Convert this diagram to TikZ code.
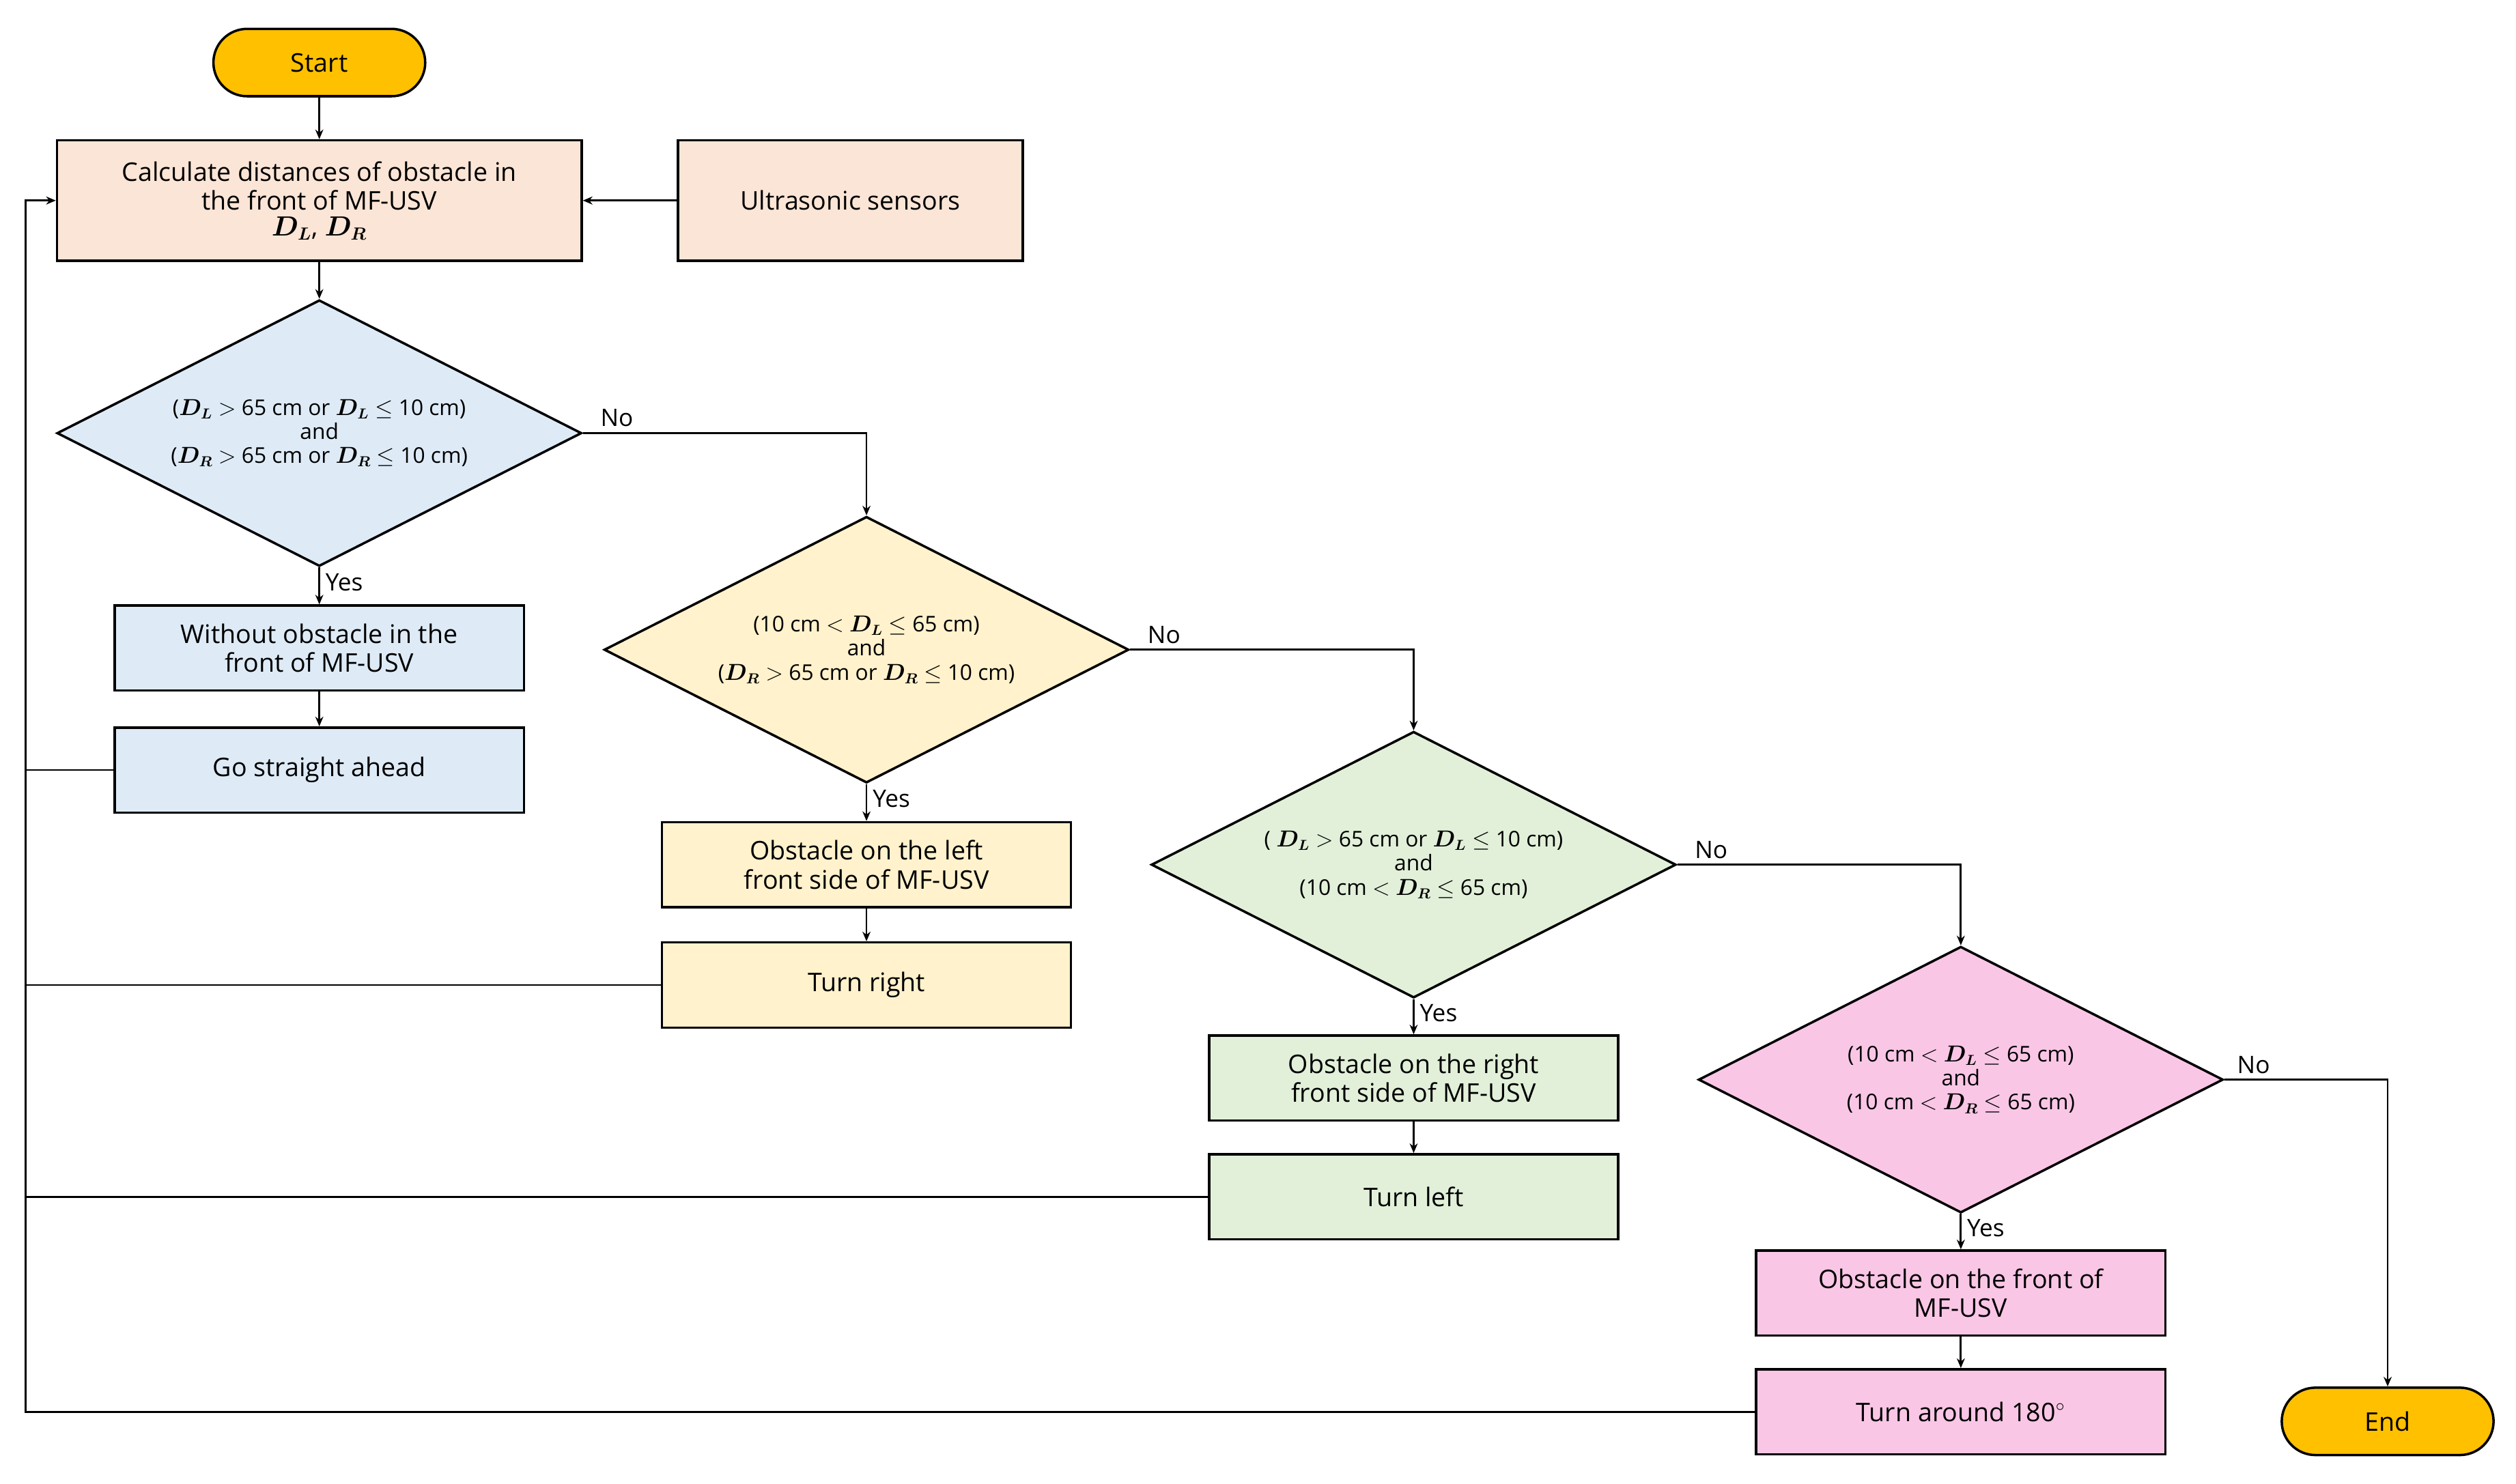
\documentclass[tikz,border=0pt]{standalone}
\usepackage{amsmath}
\usepackage{fontspec}
\setmainfont{Open Sans}
\usetikzlibrary{shapes.geometric,arrows.meta}
\definecolor{startc}{HTML}{FFC000}
\definecolor{peach}{HTML}{FBE5D6}
\definecolor{blu}{HTML}{DEEBF7}
\definecolor{yel}{HTML}{FFF2CC}
\definecolor{grn}{HTML}{E2F0D9}
\definecolor{pnk}{HTML}{FAC6E6}
\begin{document}
\begin{tikzpicture}[x=1pt,y=-1pt,
 box/.style={draw,line width=1.5pt,minimum width=255pt,minimum height=53pt,align=center,font=\fontsize{16}{18}\selectfont,inner sep=1pt},
 term/.style={draw,line width=1.5pt,rounded corners=21pt,fill=startc,minimum width=132pt,minimum height=42pt,font=\fontsize{16}{18}\selectfont},
 dia/.style={draw,line width=1.5pt,diamond,minimum width=327pt,minimum height=166pt,inner sep=0pt},
 dt/.style={align=center,font=\fontsize{13.5}{15}\selectfont},
 ar/.style={-{Stealth[length=6pt,width=5pt]},line width=1.2pt},
 ln/.style={line width=1.2pt},
 lb/.style={font=\fontsize{15}{17}\selectfont}]
\useasboundingbox (0,0) rectangle (1568,925);
\newcommand{\DL}{$\boldsymbol{D_L}$}
\newcommand{\DR}{$\boldsymbol{D_R}$}
\coordinate (lx) at (16,0);
\node[term] (start) at (199,39) {Start};
\node[box,fill=peach,minimum width=327pt,minimum height=75pt] (calc) at (199,125) {Calculate distances of obstacle in\\the front of MF-USV\\[-2pt]\DL, \DR};
\node[box,fill=peach,minimum width=215pt,minimum height=75pt] (us) at (530,125) {Ultrasonic sensors};
\node[dia,fill=blu] (d1) at (199,270) {};
\node[dt] at (d1) {(\DL{} $>$ 65 cm or \DL{} $\le$ 10 cm)\\and\\(\DR{} $>$ 65 cm or \DR{} $\le$ 10 cm)};
\node[box,fill=blu] (w1) at (199,404) {Without obstacle in the\\front of MF-USV};
\node[box,fill=blu] (go) at (199,480) {Go straight ahead};
\node[dia,fill=yel] (d2) at (540,405) {};
\node[dt] at (d2) {(10 cm $<$ \DL{} $\le$ 65 cm)\\and\\(\DR{} $>$ 65 cm or \DR{} $\le$ 10 cm)};
\node[box,fill=yel] (ol) at (540,539) {Obstacle on the left\\front side of MF-USV};
\node[box,fill=yel] (tr) at (540,614) {Turn right};
\node[dia,fill=grn] (d3) at (881,539) {};
\node[dt] at (d3) {( \DL{} $>$ 65 cm or \DL{} $\le$ 10 cm)\\and\\(10 cm $<$ \DR{} $\le$ 65 cm)};
\node[box,fill=grn] (or) at (881,672) {Obstacle on the right\\front side of MF-USV};
\node[box,fill=grn] (tl) at (881,746) {Turn left};
\node[dia,fill=pnk] (d4) at (1222,673) {};
\node[dt] at (d4) {(10 cm $<$ \DL{} $\le$ 65 cm)\\and\\(10 cm $<$ \DR{} $\le$ 65 cm)};
\node[box,fill=pnk] (of) at (1222,806) {Obstacle on the front of\\MF-USV};
\node[box,fill=pnk] (ta) at (1222,880) {Turn around 180$^\circ$};
\node[term] (end) at (1488,886) {End};
\draw[ar] (start) -- (calc);
\draw[ar] (us) -- (calc);
\draw[ar] (calc) -- (d1);
\draw[ar] (d1) -- node[lb,right,pos=0.4]{Yes} (w1);
\draw[ar] (w1) -- (go);
\draw[ar] (d1.east) -| node[lb,above right,pos=0.02]{No} (d2.north);
\draw[ar] (d2) -- node[lb,right,pos=0.4]{Yes} (ol);
\draw[ar] (ol) -- (tr);
\draw[ar] (d2.east) -| node[lb,above right,pos=0.02]{No} (d3.north);
\draw[ar] (d3) -- node[lb,right,pos=0.4]{Yes} (or);
\draw[ar] (or) -- (tl);
\draw[ar] (d3.east) -| node[lb,above right,pos=0.02]{No} (d4.north);
\draw[ar] (d4) -- node[lb,right,pos=0.4]{Yes} (of);
\draw[ar] (of) -- (ta);
\draw[ar] (d4.east) -| node[lb,above right,pos=0.02]{No} (end.north);
\draw[ar] (ta.west) -- (ta.west -| lx) -- (lx |- calc.west) -- (calc.west);
\draw[ln] (go.west) -- (go.west -| lx);
\draw[ln] (tr.west) -- (tr.west -| lx);
\draw[ln] (tl.west) -- (tl.west -| lx);
\end{tikzpicture}
\end{document}
